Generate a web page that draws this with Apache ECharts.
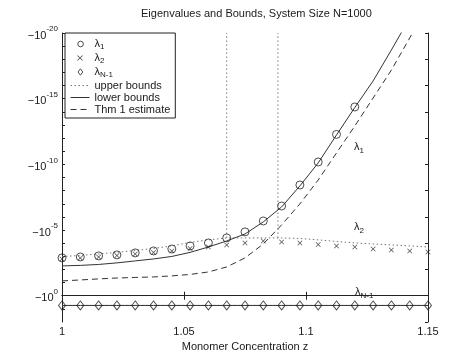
<!DOCTYPE html>
<html>
<head>
<meta charset="utf-8">
<script src="https://cdn.jsdelivr.net/npm/echarts@6/dist/echarts.min.js"></script>
<style>
html,body{margin:0;padding:0;background:#fff;}
#chart{width:474px;height:362px;}
</style>
</head>
<body>
<div id="chart"></div>
<script>
// y values are log10 of |eigenvalue| (axis shows -10^k)
var zValues = [1, 1.0075, 1.015, 1.0225, 1.03, 1.0375, 1.045, 1.0525, 1.06, 1.0675, 1.075,
               1.0825, 1.09, 1.0975, 1.105, 1.1125, 1.12, 1.1275, 1.135, 1.1425, 1.15];
var lambda1 = [-2.88, -2.95, -3.03, -3.11, -3.26, -3.41, -3.56, -3.79, -4.02, -4.40, -4.86,
               -5.69, -6.83, -8.43, -10.18, -12.28, -14.37, null, null, null, null];
var lambda2 = [-2.80, -2.88, -2.95, -3.07, -3.18, -3.30, -3.41, -3.60, -3.71, -3.87, -4.02,
               -4.17, -4.09, -4.02, -3.90, -3.79, -3.71, -3.56, -3.49, -3.41, -3.33];
var lambdaN1 = [0.74, 0.74, 0.74, 0.74, 0.74, 0.74, 0.74, 0.74, 0.74, 0.74, 0.74,
                0.74, 0.74, 0.74, 0.74, 0.74, 0.74, 0.74, 0.74, 0.74, 0.74];
var upperBound = [-2.98, -3.07, -3.18, -3.30, -3.45, -3.60, -3.79, -4.06, -4.25, -4.40, -4.40,
                  -4.40, -4.40, -4.36, -4.25, -4.13, -4.02, -3.94, -3.87, -3.79, -3.71];
var lowerBound = [-2.27, -2.31, -2.38, -2.50, -2.65, -2.80, -2.99, -3.30, -3.71, -4.17, -4.70,
                  -5.62, -6.76, -8.36, -10.11, -12.24, -14.33, -16.35, -18.71, -21.14, -23.5];
var thmEstimate = [-1.13, -1.20, -1.28, -1.35, -1.39, -1.43, -1.51, -1.62, -1.81, -2.19, -2.88,
                   -3.94, -5.39, -6.99, -8.81, -10.87, -12.92, -15.05, -17.18, -19.62, -22.13];
var upperVertZ = [1.0675, 1.0885];
var upperVertFrom = [-4.40, -4.40];
var upperVertTo = [-20, -20];
var yTickExponents = [-20, -15, -10, -5, 0];
var xTickLabels = ['1', '1.05', '1.1', '1.15'];

function pairs(xs, ys) {
  return xs.map(function (x, i) { return [x, ys[i]]; });
}

var FONT = 'Liberation Sans';
var INK = '#1a1a1a';
// x-shaped marker inside a padded box (zero-area corner points keep the padding)
var crossPath = 'path://M0,0 L0,0 Z M14,14 L14,14 Z M2,3 L3,2 L7,6 L11,2 L12,3 L8,7 L12,11 L11,12 L7,8 L3,12 L2,11 L6,7 Z';
var diamondIcon = 'path://M0,0 L0,0 Z M0,10 L0,10 Z M4,1 L7,5 L4,9 L1,5 Z';
var circleIcon = 'path://M0,0 L0,0 Z M0,10 L0,10 Z M8.5,5 A3.5,3.5 0 1 1 1.5,5 A3.5,3.5 0 1 1 8.5,5 Z';

var chart = echarts.init(document.getElementById('chart'), null, {renderer: 'canvas'});

var dotStyle = {color: '#777', width: 1, type: [1.5, 2.5]};
var series = [
  {name: 'upper bounds', type: 'line', data: pairs(zValues, upperBound), symbol: 'none', z: 2,
   lineStyle: dotStyle, itemStyle: {color: '#777'}},
  {name: 'upper bounds', type: 'line', data: [[upperVertZ[0], upperVertFrom[0]], [upperVertZ[0], upperVertTo[0]]],
   symbol: 'none', z: 2, lineStyle: dotStyle, itemStyle: {color: '#777'}},
  {name: 'upper bounds', type: 'line', data: [[upperVertZ[1], upperVertFrom[1]], [upperVertZ[1], upperVertTo[1]]],
   symbol: 'none', z: 2, lineStyle: dotStyle, itemStyle: {color: '#777'}},
  {name: 'upper bounds', type: 'line', data: pairs(zValues, lambdaN1), symbol: 'none', z: 2,
   lineStyle: dotStyle, itemStyle: {color: '#777'}},
  {name: 'lower bounds', type: 'line', data: pairs(zValues, lowerBound), symbol: 'none', z: 3,
   lineStyle: {color: '#333', width: 1}, itemStyle: {color: '#333'}},
  {name: 'lower bounds', type: 'line', data: pairs(zValues, lambdaN1), symbol: 'none', z: 3,
   lineStyle: {color: '#333', width: 1}, itemStyle: {color: '#333'}},
  {name: 'Thm 1 estimate', type: 'line', data: pairs(zValues, thmEstimate), symbol: 'none', z: 3,
   lineStyle: {color: '#333', width: 1, type: [6, 4]}, itemStyle: {color: '#333'}},
  {name: 'λ1', type: 'scatter', data: pairs(zValues, lambda1), symbol: 'circle', symbolSize: 8, z: 5,
   itemStyle: {color: 'rgba(0,0,0,0)', borderColor: '#222', borderWidth: 1}},
  {name: 'λ2', type: 'scatter', data: pairs(zValues, lambda2), symbol: crossPath, symbolSize: 7, z: 5,
   itemStyle: {color: '#222'}},
  {name: 'λN-1', type: 'scatter', data: pairs(zValues, lambdaN1), symbol: 'diamond', symbolSize: [7, 9], z: 5,
   itemStyle: {color: 'rgba(0,0,0,0)', borderColor: '#222', borderWidth: 1}}
];

var axisLineStyle = {show: true, lineStyle: {color: '#222', width: 1}};
var hiddenSym = {color: 'rgba(0,0,0,0)', borderColor: 'rgba(0,0,0,0)', borderWidth: 0, opacity: 0};
var hollowSym = {color: 'rgba(0,0,0,0)', borderColor: '#222', borderWidth: 1};

var option = {
  backgroundColor: '#fff',
  animation: false,
  title: {
    text: 'Eigenvalues and Bounds, System Size N=1000',
    left: 141, top: 8, padding: 0,
    textStyle: {fontFamily: FONT, fontSize: 11, fontWeight: 'normal', color: INK}
  },
  grid: {left: 62, right: 46, top: 33, bottom: 40, containLabel: false},
  legend: {
    orient: 'vertical', left: 65, top: 33,
    padding: [5, 5, 3, 5],
    itemGap: 1, itemWidth: 19, itemHeight: 8,
    backgroundColor: '#fff', borderColor: '#222', borderWidth: 1, borderRadius: 0,
    lineStyle: {width: 1},
    data: [
      {name: 'λ1', icon: circleIcon, itemStyle: hollowSym},
      {name: 'λ2'},
      {name: 'λN-1', icon: diamondIcon, itemStyle: hollowSym},
      {name: 'upper bounds', itemStyle: hiddenSym},
      {name: 'lower bounds', itemStyle: hiddenSym},
      {name: 'Thm 1 estimate', itemStyle: hiddenSym}
    ],
    formatter: function (name) {
      if (name === 'λ1') return '{b|λ}{s|1}';
      if (name === 'λ2') return '{b|λ}{s|2}';
      if (name === 'λN-1') return '{b|λ}{s|N-1}';
      return '{t|' + name + '}';
    },
    textStyle: {
      fontFamily: FONT, fontSize: 11, color: INK,
      rich: {
        t: {fontFamily: FONT, fontSize: 11, color: INK, lineHeight: 12},
        b: {fontFamily: FONT, fontSize: 11, color: INK, lineHeight: 12, verticalAlign: 'top'},
        s: {fontFamily: FONT, fontSize: 8, color: INK, lineHeight: 8, verticalAlign: 'top', padding: [5, 0, 0, 0]}
      }
    }
  },
  xAxis: [
    {
      type: 'value', min: 1, max: 1.15, interval: 0.05, position: 'bottom',
      name: 'Monomer Concentration z', nameLocation: 'middle', nameGap: 15,
      nameTextStyle: {fontFamily: FONT, fontSize: 11, color: INK},
      axisLine: axisLineStyle,
      axisTick: {show: true, inside: true, length: 4, lineStyle: {color: '#222'}},
      splitLine: {show: false},
      axisLabel: {
        fontFamily: FONT, fontSize: 11, color: INK, margin: 4,
        formatter: function (v) {
          var idx = Math.round((v - 1) / 0.05);
          return xTickLabels[idx] !== undefined ? xTickLabels[idx] : '';
        }
      }
    },
    {
      type: 'value', min: 1, max: 1.15, interval: 0.05, position: 'top',
      axisLine: axisLineStyle,
      axisTick: {show: true, inside: true, length: 4, lineStyle: {color: '#222'}},
      axisLabel: {show: false}, splitLine: {show: false}
    }
  ],
  yAxis: [
    {
      type: 'value', inverse: true, min: -20, max: 2, interval: 1, position: 'left',
      axisLine: axisLineStyle,
      axisTick: {show: true, inside: true, length: 3, lineStyle: {color: '#222'}},
      splitLine: {show: false},
      axisLabel: {
        showMaxLabel: false, margin: 4, interval: 0,
        formatter: function (v) {
          var k = Math.round(v);
          if (yTickExponents.indexOf(k) < 0) return '';
          return '{b|−10}{e|' + String(k) + '}';
        },
        rich: {
          b: {fontFamily: FONT, fontSize: 11, color: INK, lineHeight: 16, verticalAlign: 'bottom'},
          e: {fontFamily: FONT, fontSize: 8, color: INK, lineHeight: 8, verticalAlign: 'top'}
        }
      }
    },
    {
      type: 'value', inverse: true, min: -20, max: 2, interval: 2, position: 'right',
      axisLine: axisLineStyle,
      axisTick: {show: true, inside: true, length: 3, lineStyle: {color: '#222'}},
      axisLabel: {show: false}, splitLine: {show: false}
    }
  ],
  graphic: [
    {type: 'text', left: 354, top: 141, z: 10,
     style: {text: '{b|λ}{s|1}', rich: {
       b: {fontFamily: FONT, fontSize: 11, fill: INK, lineHeight: 12, verticalAlign: 'top'},
       s: {fontFamily: FONT, fontSize: 8, fill: INK, lineHeight: 8, verticalAlign: 'top', padding: [6, 0, 0, 0]}}}},
    {type: 'text', left: 354, top: 221, z: 10,
     style: {text: '{b|λ}{s|2}', rich: {
       b: {fontFamily: FONT, fontSize: 11, fill: INK, lineHeight: 12, verticalAlign: 'top'},
       s: {fontFamily: FONT, fontSize: 8, fill: INK, lineHeight: 8, verticalAlign: 'top', padding: [6, 0, 0, 0]}}}},
    {type: 'text', left: 355, top: 286, z: 10,
     style: {text: '{b|λ}{s|N-1}', rich: {
       b: {fontFamily: FONT, fontSize: 11, fill: INK, lineHeight: 12, verticalAlign: 'top'},
       s: {fontFamily: FONT, fontSize: 8, fill: INK, lineHeight: 8, verticalAlign: 'top', padding: [6, 0, 0, 0]}}}}
  ],
  series: series
};

chart.setOption(option);
</script>
</body>
</html>
